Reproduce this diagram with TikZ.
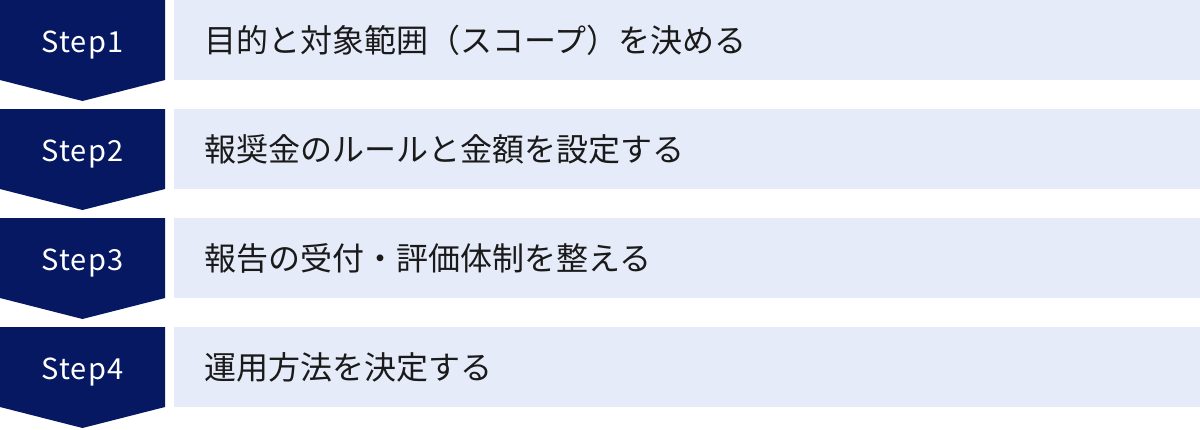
\documentclass[tikz,border=0pt]{standalone}
\usepackage{fontspec}
\setmainfont{Noto Sans CJK JP}
\newfontfamily\jpfont{Noto Sans CJK JP}
\definecolor{navy}{HTML}{061862}
\definecolor{pale}{HTML}{E5EBF8}
\definecolor{ink}{HTML}{1A1A1A}
\tikzset{
  chev/.style={fill=navy, draw=none},
  bar/.style={fill=pale, draw=none},
  steplabel/.style={text=white, font=\fontsize{29}{32}\selectfont\addfontfeatures{LetterSpace=4}, anchor=base, inner sep=0pt},
  desc/.style={text=ink, font=\jpfont\fontsize{32}{35}\selectfont, anchor=west, inner sep=0pt},
}
\begin{document}
\begin{tikzpicture}[x=1pt,y=-1pt]
\useasboundingbox (0,0) rectangle (1200,429);
\foreach \i/\t in {0/目的と対象範囲（スコープ）を決める,1/報奨金のルールと金額を設定する,2/報告の受付・評価体制を整える,3/運用方法を決定する}{
  \pgfmathsetmacro{\yy}{109*\i}
  \begin{scope}[yshift={-\yy pt}]
    \fill[chev] (0,0) -- (165,0) -- (165,80) -- (82.5,101) -- (0,80) -- cycle;
    \fill[bar] (174,0) rectangle (1200,80);
    \pgfmathtruncatemacro{\n}{\i+1}
    \node[steplabel] (s\n) at (82.5,52.5) {Step\n};
    \node[desc] (d\n) at (204,40) {\t};
  \end{scope}
}
\end{tikzpicture}
\end{document}
